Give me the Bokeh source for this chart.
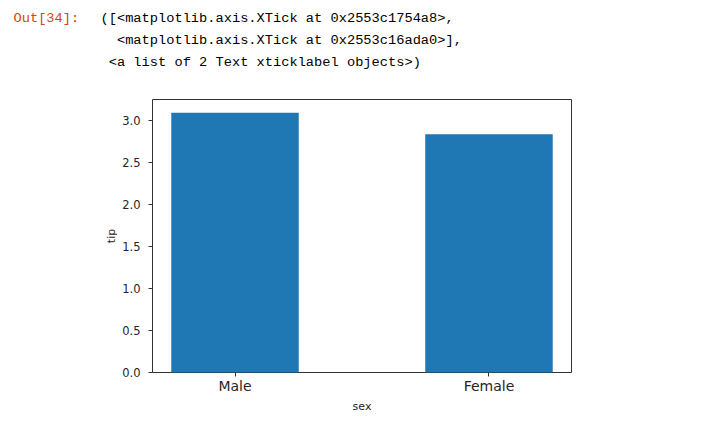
from bokeh.plotting import figure
from bokeh.models import Range1d, FixedTicker, PrintfTickFormatter, ColumnDataSource
from bokeh.layouts import column
from bokeh.core.properties import value
from bokeh.embed import file_html
from bokeh.resources import INLINE

# ---- data ----
sex = ["Male", "Female"]
tip = [3.089, 2.833]
y_ticks = [0.0, 0.5, 1.0, 1.5, 2.0, 2.5, 3.0]
out_prompt = "Out[34]:"
out_lines = [
    "([<matplotlib.axis.XTick at 0x2553c1754a8>,",
    "<matplotlib.axis.XTick at 0x2553c16ada0>],",
    "<a list of 2 Text xticklabel objects>)",
]
out_indent = [0, 2, 1]

W = 713
H1 = 80           # header height
H2 = 341          # chart height
FL, FT, FR, FB = 152, 99 - H1, 713 - 571, H1 + H2 - 372

# ---- header (notebook output text) ----
hdr = figure(width=W, height=H1, output_backend="svg", toolbar_location=None,
             x_range=Range1d(0, W), y_range=Range1d(H1, 0),
             min_border=0, outline_line_color=None)
hdr.frame_align = False
hdr.axis.visible = False
hdr.grid.visible = False
hdr.background_fill_color = "white"
hdr.border_fill_color = "white"
char_w = 8.22
hdr.text(x=[13], y=[18], text=[out_prompt], text_font=value("Liberation Mono"),
         text_font_size="13.7px", text_color="#D84315", text_baseline="middle")
src = ColumnDataSource(dict(
    x=[100 + ind * char_w for ind in out_indent],
    y=[18 + 22 * i for i in range(len(out_lines))],
    t=out_lines))
hdr.text(x="x", y="y", text="t", source=src, text_font=value("Liberation Mono"),
         text_font_size="13.7px", text_color="#000000", text_baseline="middle")

# ---- bar chart ----
xs = list(range(len(sex)))
p = figure(width=W, height=H2, output_backend="svg", toolbar_location=None,
           x_range=Range1d(-0.325, 1.325), y_range=Range1d(0, 3.25),
           min_border_left=FL, min_border_top=FT, min_border_right=FR,
           min_border_bottom=FB)
p.frame_align = False
p.vbar(x=xs, top=tip, width=0.5, bottom=0, fill_color="#1f77b4",
       line_color="#1f77b4", line_width=0.5)

p.background_fill_color = "white"
p.border_fill_color = "white"
p.outline_line_color = "#333333"
p.outline_line_width = 1
p.grid.visible = False

p.xaxis.ticker = FixedTicker(ticks=xs)
p.xaxis.major_label_overrides = {i: s for i, s in zip(xs, sex)}
p.xaxis.axis_label = "sex"
p.xaxis.major_label_text_font_size = "14px"
p.xaxis.major_label_standoff = 1
p.xaxis.axis_label_standoff = 3

p.yaxis.ticker = FixedTicker(ticks=y_ticks)
p.yaxis.formatter = PrintfTickFormatter(format="%.1f")
p.yaxis.axis_label = "tip"
p.yaxis.major_label_text_font_size = "11.5px"
p.yaxis.major_label_standoff = 8
p.yaxis.axis_label_standoff = 1

for ax in (p.xaxis[0], p.yaxis[0]):
    ax.axis_line_color = None
    ax.major_tick_out = 4
    ax.major_tick_in = 0
    ax.major_tick_line_color = "#333333"
    ax.minor_tick_line_color = None
    ax.major_label_text_font = "DejaVu Sans"
    ax.major_label_text_color = "#262626"
    ax.axis_label_text_font = "DejaVu Sans"
    ax.axis_label_text_font_size = "11px"
    ax.axis_label_text_font_style = "normal"
    ax.axis_label_text_color = "#262626"

layout = column(hdr, p, spacing=0)
open("out.html", "w").write(file_html(layout, INLINE))
